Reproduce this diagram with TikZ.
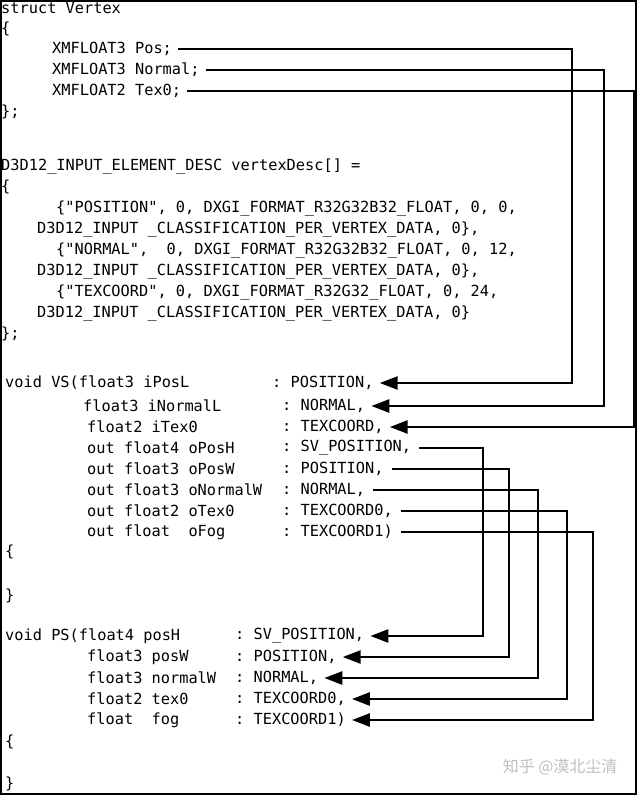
\documentclass[tikz,border=0pt]{standalone}
\usepackage{fontspec}
\setmonofont{DejaVu Sans Mono}
\newfontfamily\cjk{Noto Sans CJK SC}
\usetikzlibrary{arrows.meta,calc}
\tikzset{
  code/.style={anchor=west,inner sep=0pt,font=\fontsize{15.3}{19}\ttfamily},
  link/.style={line width=2.6pt},
  flow/.style={link,-{Triangle[length=18pt,width=13pt]},shorten >=6pt},
}
\begin{document}
\begin{tikzpicture}[x=1pt,y=-1pt]
\useasboundingbox (0,0) rectangle (637,795);
\draw[line width=1.6pt] (1,1) rectangle (636,794);

% struct
\node[code] (st) at (1,8) {struct Vertex};
\node[code] (st1) at (1,29) {\{};
\node[code] (pos) at (52,49) {XMFLOAT3 Pos;};
\node[code] (nrm) at (52,70) {XMFLOAT3 Normal;};
\node[code] (tex) at (52,91) {XMFLOAT2 Tex0;};
\node[code] (st2) at (1,112) {\};};

% input layout
\node[code] (il) at (1,166) {D3D12\_INPUT\_ELEMENT\_DESC vertexDesc[] =};
\node[code] (il1) at (1,187) {\{};
\node[code] (il2) at (56,208) {\{"POSITION", 0, DXGI\_FORMAT\_R32G32B32\_FLOAT, 0, 0,};
\node[code] (il3) at (37,229) {D3D12\_INPUT \_CLASSIFICATION\_PER\_VERTEX\_DATA, 0\},};
\node[code] (il4) at (56,250) {\{"NORMAL",\ \ 0, DXGI\_FORMAT\_R32G32B32\_FLOAT, 0, 12,};
\node[code] (il5) at (37,271) {D3D12\_INPUT \_CLASSIFICATION\_PER\_VERTEX\_DATA, 0\},};
\node[code] (il6) at (56,292) {\{"TEXCOORD", 0, DXGI\_FORMAT\_R32G32\_FLOAT, 0, 24,};
\node[code] (il7) at (37,313) {D3D12\_INPUT \_CLASSIFICATION\_PER\_VERTEX\_DATA, 0\}};
\node[code] (il8) at (1,334) {\};};

% vertex shader
\node[code] (vs) at (5,383) {void VS(float3 iPosL};
\node[code] (vsPos) at (272,383) {: POSITION,};
\node[code] (vs2) at (83,406) {float3 iNormalL};
\node[code] (vsNrm) at (282,406) {: NORMAL,};
\node[code] (vs3) at (87,427) {float2 iTex0};
\node[code] (vsTex) at (282,427) {: TEXCOORD,};
\node[code] (vs4) at (87,448) {out float4 oPosH};
\node[code] (vsOPosH) at (282,448) {: SV\_POSITION,};
\node[code] (vs5) at (87,469) {out float3 oPosW};
\node[code] (vsOPosW) at (282,469) {: POSITION,};
\node[code] (vs6) at (87,490) {out float3 oNormalW};
\node[code] (vsONrm) at (282,490) {: NORMAL,};
\node[code] (vs7) at (87,511) {out float2 oTex0};
\node[code] (vsOTex) at (282,511) {: TEXCOORD0,};
\node[code] (vs8) at (87,532) {out float\ \ oFog};
\node[code] (vsOFog) at (282,532) {: TEXCOORD1)};
\node[code] (vs9) at (5,552) {\{};
\node[code] (vs10) at (5,596) {\}};

% pixel shader
\node[code] (ps) at (5,636) {void PS(float4 posH};
\node[code] (psPosH) at (235,636) {: SV\_POSITION,};
\node[code] (ps2) at (87,657) {float3 posW};
\node[code] (psPosW) at (235,657) {: POSITION,};
\node[code] (ps3) at (87,678) {float3 normalW};
\node[code] (psNrm) at (235,678) {: NORMAL,};
\node[code] (ps4) at (87,699) {float2 tex0};
\node[code] (psTex) at (235,699) {: TEXCOORD0,};
\node[code] (ps5) at (87,720) {float\ \ fog};
\node[code] (psFog) at (235,720) {: TEXCOORD1)};
\node[code] (ps6) at (5,742) {\{};
\node[code] (ps7) at (5,784) {\}};

\node[font=\cjk\fontsize{16}{16}\selectfont,text=black!25,anchor=east] (wm) at (621,767) {知乎 @漠北尘清};

% columns
\coordinate (c1) at (572,0);
\coordinate (c2) at (604,0);
\coordinate (c3) at (634,0);
\coordinate (c4) at (483,0);
\coordinate (c5) at (509,0);
\coordinate (c6) at (538,0);
\coordinate (c7) at (567,0);
\coordinate (c8) at (593,0);

\draw[flow] ([xshift=6pt]pos.east) -- (pos.east -| c1) |- (vsPos.east);
\draw[flow] ([xshift=6pt]nrm.east) -- (nrm.east -| c2) |- (vsNrm.east);
\draw[flow] ([xshift=6pt]tex.east) -- (tex.east -| c3) |- (vsTex.east);
\draw[flow] ([xshift=8pt]vsOPosH.east) -- (vsOPosH.east -| c4) |- (psPosH.east);
\draw[flow] ([xshift=8pt]vsOPosW.east) -- (vsOPosW.east -| c5) |- (psPosW.east);
\draw[flow] ([xshift=8pt]vsONrm.east) -- (vsONrm.east -| c6) |- (psNrm.east);
\draw[flow] ([xshift=8pt]vsOTex.east) -- (vsOTex.east -| c7) |- (psTex.east);
\draw[flow] ([xshift=8pt]vsOFog.east) -- (vsOFog.east -| c8) |- (psFog.east);
\end{tikzpicture}
\end{document}
